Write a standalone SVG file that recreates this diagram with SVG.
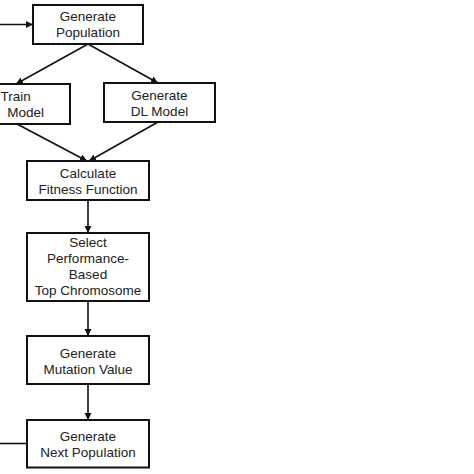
<svg xmlns="http://www.w3.org/2000/svg" width="474" height="474" viewBox="0 0 474 474">
<defs>
<marker id="ah" markerWidth="8" markerHeight="8" refX="7" refY="4" orient="auto" markerUnits="userSpaceOnUse">
<path d="M0,0.5 L7,4 L0,7.5 Z" fill="#111"/>
</marker>
<style>
.box{fill:#fff;stroke:#111;stroke-width:2}
.t{font-family:"Liberation Sans",Arial,sans-serif;font-size:13.5px;fill:#222;text-anchor:middle}
.c{fill:none;stroke:#111;stroke-width:1.6}
</style>
</defs>
<rect width="474" height="474" fill="#fff"/>
<g id="connectors">
<line class="c" x1="0" y1="24.5" x2="33" y2="24.5" marker-end="url(#ah)"/>
<line class="c" x1="88" y1="44" x2="16" y2="84" marker-end="url(#ah)"/>
<line class="c" x1="88" y1="44" x2="158" y2="83" marker-end="url(#ah)"/>
<line class="c" x1="17" y1="124" x2="87" y2="161" marker-end="url(#ah)"/>
<line class="c" x1="158" y1="122" x2="89" y2="161" marker-end="url(#ah)"/>
<line class="c" x1="88" y1="200" x2="88" y2="233" marker-end="url(#ah)"/>
<line class="c" x1="88" y1="301" x2="88" y2="336" marker-end="url(#ah)"/>
<line class="c" x1="88" y1="384" x2="88" y2="420" marker-end="url(#ah)"/>
<line class="c" x1="0" y1="443.5" x2="27" y2="443.5"/>
</g>
<g id="generate-population">
<rect class="box" x="33" y="5" width="110" height="39"/>
<text class="t" x="88" y="21">Generate</text>
<text class="t" x="88" y="37">Population</text>
</g>
<g id="train-model">
<rect class="box" x="-20" y="84" width="90" height="40"/>
<text class="t" x="0.5" y="101" style="text-anchor:start">Train</text>
<text class="t" x="44" y="117" style="text-anchor:end">Model</text>
</g>
<g id="generate-dl-model">
<rect class="box" x="104" y="83" width="111" height="39"/>
<text class="t" x="159.5" y="100">Generate</text>
<text class="t" x="159.5" y="116">DL Model</text>
</g>
<g id="calculate-fitness">
<rect class="box" x="27" y="161" width="122" height="39"/>
<text class="t" x="88" y="178">Calculate</text>
<text class="t" x="88" y="193.5">Fitness Function</text>
</g>
<g id="select-top">
<rect class="box" x="27" y="233" width="122" height="68"/>
<text class="t" x="88" y="247">Select</text>
<text class="t" x="88" y="263">Performance-</text>
<text class="t" x="88" y="279">Based</text>
<text class="t" x="88" y="295">Top Chromosome</text>
</g>
<g id="generate-mutation">
<rect class="box" x="27" y="336" width="122" height="48"/>
<text class="t" x="88" y="358">Generate</text>
<text class="t" x="88" y="373.5">Mutation Value</text>
</g>
<g id="generate-next-population">
<rect class="box" x="27" y="420" width="122" height="47.5"/>
<text class="t" x="88" y="441">Generate</text>
<text class="t" x="88" y="457">Next Population</text>
</g>
</svg>
